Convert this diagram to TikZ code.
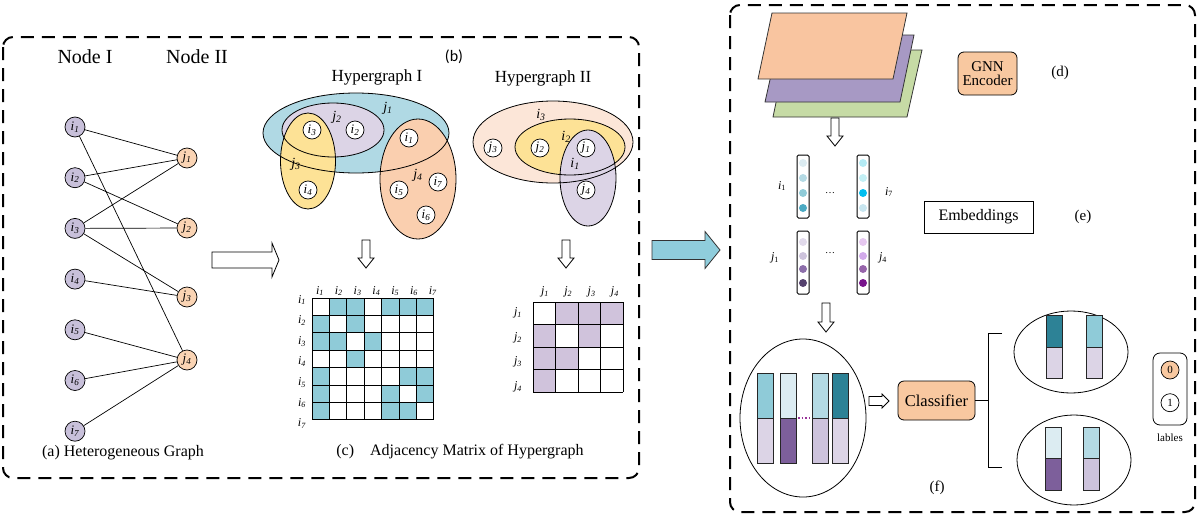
\documentclass[tikz,border=0pt]{standalone}
\usepackage{fontspec}
\setmainfont{Liberation Serif}
\newfontfamily\capfont{Carlito}
\usetikzlibrary{positioning, calc}

\definecolor{ilav}{RGB}{200,192,218}
\definecolor{jpeach}{RGB}{250,212,180}
\definecolor{hblue}{RGB}{176,217,228}
\definecolor{hlav}{RGB}{220,212,230}
\definecolor{hyel}{RGB}{253,226,150}
\definecolor{hpeach}{RGB}{250,207,175}
\definecolor{hpale}{RGB}{252,230,216}
\definecolor{mcyan}{RGB}{143,203,216}
\definecolor{mlav}{RGB}{208,195,220}
\definecolor{lorange}{RGB}{249,197,160}
\definecolor{lpurple}{RGB}{167,153,196}
\definecolor{lgreen}{RGB}{198,219,165}
\definecolor{boxpeach}{RGB}{248,200,160}
\definecolor{barpale}{RGB}{220,236,242}
\definecolor{barlight}{RGB}{180,218,228}
\definecolor{barteal}{RGB}{45,130,150}
\definecolor{bardark}{RGB}{125,95,155}
\definecolor{barmid}{RGB}{205,195,220}
\definecolor{arrowcyan}{RGB}{143,205,220}
% embedding dots
\definecolor{da1}{RGB}{220,236,242}\definecolor{da2}{RGB}{180,218,228}
\definecolor{da3}{RGB}{143,203,216}\definecolor{da4}{RGB}{75,170,195}
\definecolor{db1}{RGB}{180,235,245}\definecolor{db2}{RGB}{195,240,245}
\definecolor{db3}{RGB}{0,190,240}\definecolor{db4}{RGB}{200,230,240}
\definecolor{dc1}{RGB}{225,218,235}\definecolor{dc2}{RGB}{205,195,220}
\definecolor{dc3}{RGB}{140,110,170}\definecolor{dc4}{RGB}{85,65,110}
\definecolor{dd1}{RGB}{230,200,240}\definecolor{dd2}{RGB}{210,170,235}
\definecolor{dd3}{RGB}{150,100,170}\definecolor{dd4}{RGB}{120,20,140}

\newcommand{\nd}[2]{\textit{#1}\textsubscript{\textit{#2}}}
\newcommand{\ndu}[2]{\textit{#1}\textsubscript{#2}}
\newcommand{\fsz}[1]{\fontsize{#1}{#1}\selectfont}

\tikzset{pics/blockarrow/.style args={#1/#2/#3/#4}{code={
  \path[pic actions] (0,-#2) -- (#1-#4,-#2) -- (#1-#4,-#3) -- (#1,0)
    -- (#1-#4,#3) -- (#1-#4,#2) -- (0,#2) -- cycle;}}}

\begin{document}
\begin{tikzpicture}[x=1pt, y=-1pt,
  inode/.style={circle, draw, line width=0.7pt, fill=ilav, inner sep=0pt, minimum size=20pt, font=\fsz{13}},
  jnode/.style={inode, fill=jpeach},
  hnode/.style={circle, draw, line width=0.7pt, fill=white, inner sep=0pt, minimum size=18pt, font=\fsz{13}},
  elabel/.style={font=\fsz{14}, inner sep=0pt},
  mlabel/.style={font=\fsz{12}, inner sep=0pt},
  title/.style={font=\fsz{17}, inner sep=0pt},
  caption/.style={font=\fsz{16}, inner sep=0pt},
  link/.style={draw, line width=0.7pt},
  hline/.style={draw, line width=0.8pt},
  dashbox/.style={draw, line width=2pt, dash pattern=on 13pt off 8pt, rounded corners=10pt},
  cell/.style={draw, line width=1pt},
  vec/.style={draw, line width=1pt, rounded corners=1.5pt, minimum width=12pt, minimum height=63pt, inner sep=0pt},
  rbox/.style={draw, line width=0.8pt, rounded corners=6pt, fill=boxpeach, align=center, inner sep=0pt},
  hollow/.style={draw, line width=0.8pt, fill=white},
  barline/.style={draw=black!85, line width=0.8pt},
]
\useasboundingbox (0,0) rectangle (1200,517);

% frames
\draw[dashbox] (3,37) rectangle (639,478);
\draw[dashbox] (730,5) rectangle (1195,512);

% (a) heterogeneous graph
\node[font=\fsz{20}] (n1) at (85,57) {Node I};
\node[font=\fsz{20}] (n2) at (197,57) {Node II};
\node[inode] (i1) at (75,127) {\nd{i}{1}};
\foreach \k [evaluate=\k as \p using int(\k-1)] in {2,...,7}
  \node[inode] (i\k) [below=30pt of i\p] {\nd{i}{\k}};
\node[jnode] (j1) at (187,158) {\nd{j}{1}};
\node[jnode] (j2) at (187,228) {\nd{j}{2}};
\node[jnode] (j3) at (187,297) {\nd{j}{3}};
\node[jnode] (j4) at (187,360) {\nd{j}{4}};
\foreach \a/\b in {1/1,1/4,2/1,2/2,3/1,3/2,3/3,4/3,5/4,6/4,7/4}
  \draw[link] (i\a) -- (j\b);
\node[caption] (capa) at (123,453) {(a) Heterogeneous Graph};

\pic[hollow] at (212,260) {blockarrow=67/8/17/7};

% (b) hypergraphs
\node[font=\fsz{16}\capfont] (capb) at (454,57) {(b)};
\node[title] (hg1) at (377,77) {Hypergraph I};
\node[title] (hg2) at (543,78) {Hypergraph II};

\fill[hblue] (356,133) ellipse [x radius=93pt, y radius=40pt];
\fill[hlav] (333,130) ellipse [x radius=51pt, y radius=27pt];
\fill[hyel] (308,161) ellipse [x radius=27.5pt, y radius=48pt];
\fill[hpeach] (418,179) ellipse [x radius=38pt, y radius=60pt];
\draw[hline] (356,133) ellipse [x radius=93pt, y radius=40pt];
\draw[hline] (333,130) ellipse [x radius=51pt, y radius=27pt];
\draw[hline] (308,161) ellipse [x radius=27.5pt, y radius=48pt];
\draw[hline] (418,179) ellipse [x radius=38pt, y radius=60pt];
\node[elabel] (e1j1) at (388,108) {\nd{j}{1}};
\node[elabel] (e1j2) at (337,117) {\nd{j}{2}};
\node[elabel] (e1j3) at (296,164) {\nd{j}{3}};
\node[elabel] (e1j4) at (418,175) {\nd{j}{4}};
\node[hnode] (h1i3) at (312,130) {\nd{i}{3}};
\node[hnode] (h1i2) at (355,130) {\nd{i}{2}};
\node[hnode] (h1i1) at (409,138) {\nd{i}{1}};
\node[hnode] (h1i4) at (308,190) {\nd{i}{4}};
\node[hnode] (h1i5) at (399,190) {\nd{i}{5}};
\node[hnode] (h1i7) at (438,182) {\nd{i}{7}};
\node[hnode] (h1i6) at (426,215) {\nd{i}{6}};

\fill[hpale] (553,142) ellipse [x radius=80pt, y radius=41pt];
\fill[hyel] (570,147) ellipse [x radius=55pt, y radius=28pt];
\fill[hlav] (588,178) ellipse [x radius=28pt, y radius=48pt];
\draw[hline] (553,142) ellipse [x radius=80pt, y radius=41pt];
\draw[hline] (570,147) ellipse [x radius=55pt, y radius=28pt];
\draw[hline] (588,178) ellipse [x radius=28pt, y radius=48pt];
\node[elabel] (e2i3) at (541,115) {\nd{i}{3}};
\node[elabel] (e2i2) at (566,137) {\nd{i}{2}};
\node[elabel] (e2i1) at (575,164) {\nd{i}{1}};
\node[hnode] (h2j3) at (493,148) {\nd{j}{3}};
\node[hnode] (h2j2) at (540,148) {\nd{j}{2}};
\node[hnode] (h2j1) at (586,148) {\nd{j}{1}};
\node[hnode] (h2j4) at (586,190) {\nd{j}{4}};

\pic[hollow, rotate=-90] at (366,240) {blockarrow=28/4/8/10};
\pic[hollow, rotate=-90] at (566,240) {blockarrow=28/4/8/10};

% (c) adjacency matrices
\foreach \r/\c in {1/2,1/3,1/5,1/6,1/7,2/1,2/3,3/1,3/2,3/4,4/3,5/1,5/6,5/7,6/1,6/5,6/7,7/1,7/5,7/6}
  \fill[mcyan] (312+17.4*\c-17.4,298+17.4*\r-17.4) rectangle ++(17.4,17.4);
\foreach \k in {0,...,7} {
  \draw[cell] (312+17.4*\k,298) -- (312+17.4*\k,419.8);
  \draw[cell] (312,298+17.4*\k) -- (433.8,298+17.4*\k);
}
\foreach \k in {1,...,7} {
  \node[mlabel] (ci\k) at (320+18.8*\k-18.8,291) {\nd{i}{\k}};
  \node[mlabel] (ri\k) at (302,300+20.6*\k-20.6) {\nd{i}{\k}};
}

\foreach \r/\c in {1/2,1/3,1/4,2/1,2/3,3/1,3/2,4/1}
  \fill[mlav] (533+22.5*\c-22.5,302+22.5*\r-22.5) rectangle ++(22.5,22.5);
\foreach \k in {0,...,4} {
  \draw[cell] (533+22.5*\k,302) -- (533+22.5*\k,392);
  \draw[cell] (533,302+22.5*\k) -- (623,302+22.5*\k);
}
\foreach \k in {1,...,4} {
  \node[mlabel] (cj\k) at (545+23.3*\k-23.3,292) {\nd{j}{\k}};
  \node[mlabel] (rj\k) at (518,313+24.5*\k-24.5) {\nd{j}{\k}};
}
\node[caption] (capc) at (460,452) {(c)\quad Adjacency Matrix of Hypergraph};

\pic[draw=black!80, line width=0.8pt, fill=arrowcyan] at (652,250) {blockarrow=68/9.5/18.5/15};

% (d) GNN encoder
\filldraw[fill=lgreen, draw=black!80, line width=0.8pt] (787,50) -- (922,50) -- (907,117) -- (773,117) -- cycle;
\filldraw[fill=lpurple, draw=black!80, line width=0.8pt] (780,35) -- (914,35) -- (900,102) -- (765,102) -- cycle;
\filldraw[fill=lorange, draw=black!80, line width=0.8pt] (772,13) -- (907,13) -- (893,79) -- (758,79) -- cycle;
\node[rbox, minimum width=59pt, minimum height=43pt, font=\fsz{15}] (gnn) at (987.5,73.5) {GNN\\[-1pt]Encoder};
\node[font=\fsz{15}] (capd) at (1060,73) {(d)};

\pic[hollow, rotate=-90] at (835,118) {blockarrow=28/4/8/10};

% (e) embeddings
\node[vec] (vi1) at (803,186.5) {};
\node[vec] (vi7) at (863,186.5) {};
\node[vec] (vj1) at (803,262.5) {};
\node[vec] (vj4) at (863,262.5) {};
\foreach \n/\y in {1/163,2/178,3/193,4/208} {
  \fill[da\n] (803,\y) circle [radius=4pt];
  \fill[db\n] (863,\y) circle [radius=4pt];
}
\foreach \n/\y in {1/242,2/256,3/269,4/283} {
  \fill[dc\n] (803,\y) circle [radius=4pt];
  \fill[dd\n] (863,\y) circle [radius=4pt];
}
\node[mlabel] (li1) at (782,186) {\ndu{i}{1}};
\node[mlabel] (li7) at (889,192) {\ndu{i}{7}};
\node[mlabel] (lj1) at (775,258) {\ndu{j}{1}};
\node[mlabel] (lj4) at (883,258) {\ndu{j}{4}};
\node[font=\fsz{10}] (dots1) at (830,193) {\dots};
\node[font=\fsz{10}] (dots2) at (830,253) {\dots};
\node[draw, line width=0.8pt, minimum width=109pt, minimum height=32pt, font=\fsz{16}] (emb) at (978.5,217) {Embeddings};
\node[font=\fsz{15}] (cape) at (1083,217) {(e)};

\pic[hollow, rotate=-90] at (826,303) {blockarrow=29/4/8/10};

% (f) classifier
\draw[line width=0.8pt] (803,418) ellipse [x radius=63pt, y radius=79pt];
\draw[line width=0.8pt] (1071,352) ellipse [x radius=57pt, y radius=41pt];
\draw[line width=0.8pt] (1074,460) ellipse [x radius=57pt, y radius=45pt];
\foreach \xa/\ya/\ym/\yb/\ct/\cb in {757/373/418/463/mcyan/hlav, 780/373/418/463/barpale/bardark,
    812/373/418/463/barlight/barmid, 832/373/418/463/barteal/hlav,
    1046/315/347/378/barteal/hlav, 1086/315/347/378/mcyan/hlav,
    1045/427/458/490/barpale/bardark, 1083/427/458/490/barlight/barmid} {
  \filldraw[barline, fill=\ct] (\xa,\ya) rectangle (\xa+16,\ym);
  \filldraw[barline, fill=\cb] (\xa,\ym) rectangle (\xa+16,\yb);
}
\draw[violet!80, line width=1.5pt, dotted] (798,418) -- (811,418);

\pic[hollow] at (869,401) {blockarrow=20/4.5/7/7};
\node[rbox, minimum width=77pt, minimum height=39pt, font=\fsz{16.5}] (cls) at (936.5,400.5) {Classifier};
\coordinate (brk) at (988,400.5);
\coordinate (brtop) at (988,333);
\coordinate (brbot) at (988,467);
\coordinate (toptip) at (1002,333);
\coordinate (bottip) at (1002,467);
\draw[line width=0.8pt] (cls.east) -- (brk);
\draw[line width=0.8pt] (toptip) -- (brtop) -- (brbot) -- (bottip);
\node[font=\fsz{15}] (capf) at (937,488) {(f)};

% labels
\node[draw, line width=0.8pt, rounded corners=7pt, minimum width=34pt, minimum height=72pt] (lab) at (1170,389) {};
\node[circle, draw, line width=0.7pt, fill=boxpeach, minimum size=18pt, inner sep=0pt, font=\fsz{11}] (l0) at (1170,370) {0};
\node[circle, draw, line width=0.7pt, fill=white, minimum size=18pt, inner sep=0pt, font=\fsz{11}] (l1) [below=14pt of l0] {1};
\node[font=\fsz{11}] (labtxt) [below=5pt of lab] {lables};
\end{tikzpicture}
\end{document}
